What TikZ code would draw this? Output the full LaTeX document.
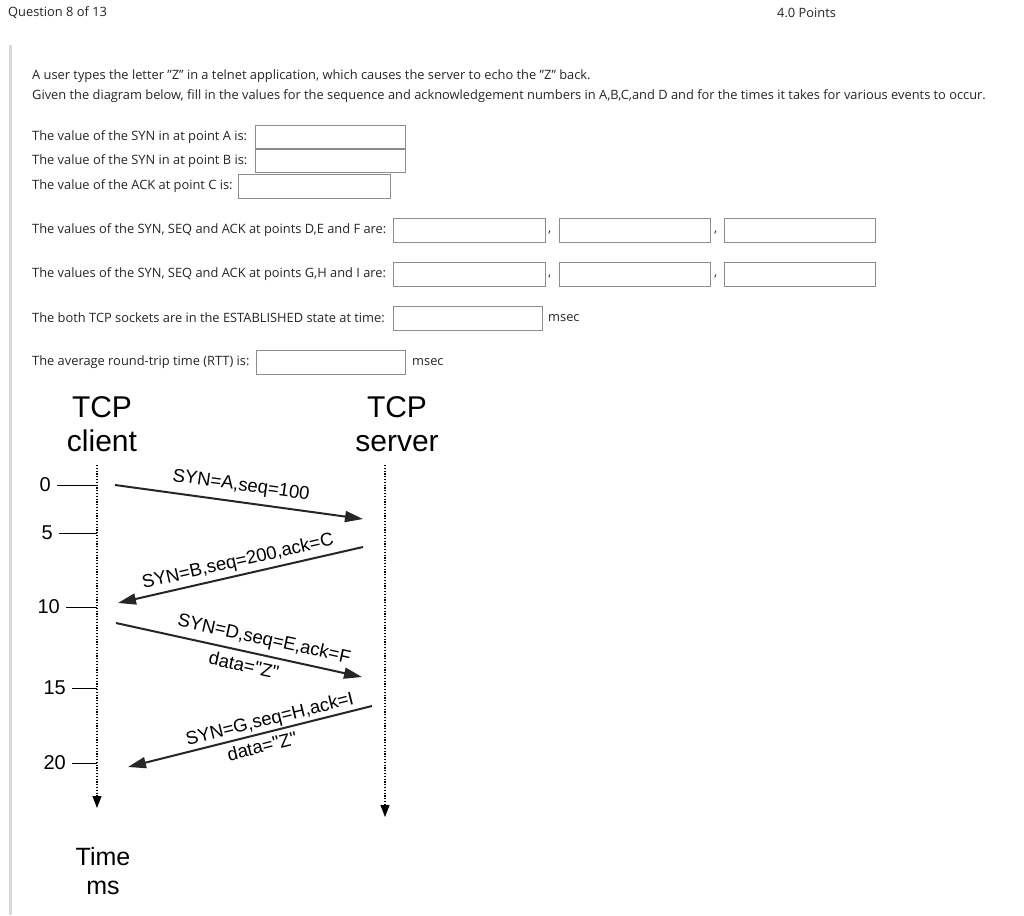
\documentclass[tikz,border=0pt]{standalone}
\usepackage{fontspec}
\setmainfont{Open Sans}
\newfontfamily\arialf{Liberation Sans}
\usetikzlibrary{arrows.meta}
\begin{document}
\begin{tikzpicture}[x=1pt,y=-1pt,
  ui/.style={anchor=west,font=\fontsize{12.85}{15}\selectfont,text=black!85,inner sep=0},
  fld/.style={draw=black!45,line width=0.8pt},
  big/.style={font=\arialf\fontsize{30}{34}\selectfont,align=center,inner sep=0},
  tml/.style={font=\arialf\fontsize{25}{29}\selectfont,align=center,inner sep=0},
  lbl/.style={font=\arialf\fontsize{18.5}{21}\selectfont,inner sep=0},
  tl/.style={font=\arialf\fontsize{20}{22}\selectfont,anchor=east,inner sep=0},
  life/.style={dash pattern=on 1.2pt off 1.6pt,line width=1.2pt,-{Triangle[length=12pt,width=9pt]}},
  msg/.style={line width=2pt,black!85,-{Triangle[length=18pt,width=11pt]}}]
\useasboundingbox[fill=white] (0,0) rectangle (1024,915);
\fill[black!15] (9,45) rectangle (12,915);
\node[ui] (q) at (8,13) {Question 8 of 13};
\node[ui] (pts) at (777,13) {4.0 Points};
\node[ui] (t1) at (32,76) {A user types the letter "Z" in a telnet application, which causes the server to echo the "Z" back.};
\node[ui] (t2) at (32,96) {Given the diagram below, fill in the values for the sequence and acknowledgement numbers in A,B,C,and D and for the times it takes for various events to occur.};
\node[ui] (qa) at (32,137) {The value of the SYN in at point A is:};
\draw[fld] (255,125) rectangle (405,148);
\node[ui] (qb) at (32,161) {The value of the SYN in at point B is:};
\draw[fld] (255,149) rectangle (405,172);
\node[ui] (qc) at (32,186) {The value of the ACK at point C is:};
\draw[fld] (238,174) rectangle (390,198);
\node[ui] (qd) at (32,230) {The values of the SYN, SEQ and ACK at points D,E and F are:};
\node[ui] (qg) at (32,274) {The values of the SYN, SEQ and ACK at points G,H and I are:};
\foreach \y in {218,262}{
  \draw[fld] (393,\y) rectangle (545,\y+24);
  \draw[fld] (559,\y) rectangle (710,\y+24);
  \draw[fld] (724,\y) rectangle (875,\y+24);
  \node[ui] at (548,\y+15) {,};
  \node[ui] at (714,\y+15) {,};
}
\node[ui] (qe) at (32,318) {The both TCP sockets are in the ESTABLISHED state at time:};
\draw[fld] (393,306) rectangle (542,330);
\node[ui] (m1) at (548,318) {msec};
\node[ui] (qr) at (32,362) {The average round-trip time (RTT) is:};
\draw[fld] (256,350) rectangle (405,374);
\node[ui] (m2) at (412,362) {msec};
% diagram
\node[big] (cl) at (102,424) {TCP\\client};
\node[big] (sv) at (397,424) {TCP\\server};
\node[tml] (tm) at (103,871) {Time\\ms};
\coordinate (c0) at (97,465); \coordinate (c1) at (97,808);
\coordinate (s0) at (385,465); \coordinate (s1) at (385,817);
\draw[life] (c0) -- (c1);
\draw[life] (s0) -- (s1);
\foreach \v/\y/\lx in {0/485/51,5/533/53,10/607/60,15/688/66,20/763/66}{
  \node[tl] (tk\v) at (\lx,\y) {\v};
  \draw[line width=1pt] (\lx+6,\y) -- (97,\y);
}
\coordinate (a1) at (115,485); \coordinate (a2) at (363,519);
\coordinate (b1) at (363,547); \coordinate (b2) at (118,603);
\coordinate (d1) at (116,623); \coordinate (d2) at (362,677);
\coordinate (g1) at (372,706); \coordinate (g2) at (128,767);
\draw[msg] (a1) -- (a2);
\draw[msg] (b1) -- (b2);
\draw[msg] (d1) -- (d2);
\draw[msg] (g1) -- (g2);
\node[lbl,rotate=-7.8] (la) at (241,486) {SYN=A,seq=100};
\node[lbl,rotate=12.9] (lb) at (238,562) {SYN=B,seq=200,ack=C};
\node[lbl,rotate=-12.4] (ld) at (264,640) {SYN=D,seq=E,ack=F};
\node[lbl,rotate=-12.4] (ld2) at (244,665) {data="Z"};
\node[lbl,rotate=14] (lg) at (270,720) {SYN=G,seq=H,ack=I};
\node[lbl,rotate=14] (lg2) at (262,746) {data="Z"};
\end{tikzpicture}
\end{document}
